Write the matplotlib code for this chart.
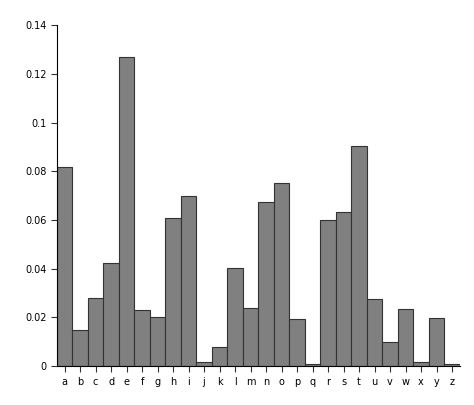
import matplotlib
matplotlib.use('Agg')
import matplotlib.pyplot as plt

letters = list('abcdefghijklmnopqrstuvwxyz')
freq = [0.08167, 0.01492, 0.02782, 0.04253, 0.12702, 0.02288, 0.02015, 0.06094,
        0.06966, 0.00153, 0.00772, 0.04025, 0.02406, 0.06749, 0.07507, 0.01929,
        0.00095, 0.05987, 0.06327, 0.09056, 0.02758, 0.00978, 0.02360, 0.00150,
        0.01974, 0.00074]
yticks = [0, 0.02, 0.04, 0.06, 0.08, 0.1, 0.12, 0.14]
ytick_labels = ['0', '0.02', '0.04', '0.06', '0.08', '0.1', '0.12', '0.14']

fig = plt.figure(figsize=(4.74, 4.05), dpi=100)
ax = fig.add_axes([0.12, 0.096, 0.85, 0.842])
ax.bar(range(len(letters)), freq, width=1.0, color='#808080', edgecolor='#333333', linewidth=0.8)
ax.set_xlim(-0.5, 25.5)
ax.set_ylim(0, 0.14)
ax.set_xticks(range(len(letters)))
ax.set_xticklabels(letters)
ax.set_yticks(yticks)
ax.set_yticklabels(ytick_labels)
ax.tick_params(labelsize=7, length=4, color='#333333')
ax.spines['top'].set_visible(False)
ax.spines['right'].set_visible(False)
ax.spines['bottom'].set_position(('outward', 0))
fig.savefig('out.png')
